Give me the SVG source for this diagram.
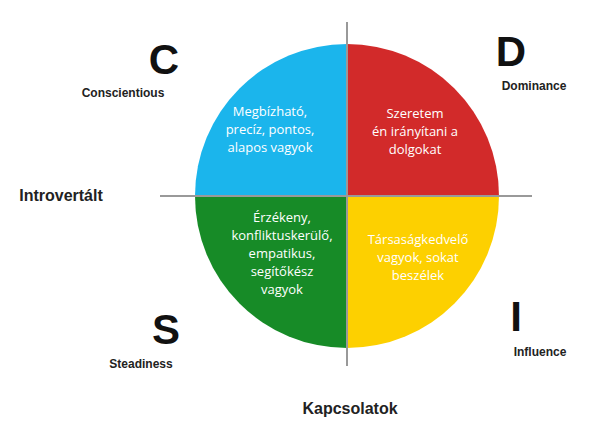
<svg xmlns="http://www.w3.org/2000/svg" width="600" height="434" viewBox="0 0 600 434">
<style>
.q{font-family:"Open Sans","Liberation Sans",sans-serif;font-size:13px;fill:#fff;text-anchor:middle}
.big{font-family:"Liberation Sans",Arial,sans-serif;font-size:42px;font-weight:bold;fill:#111;text-anchor:middle}
.lb{font-family:"Liberation Sans",Arial,sans-serif;font-size:12px;font-weight:bold;fill:#222;text-anchor:middle}
.ax{font-family:"Liberation Sans",Arial,sans-serif;font-size:16px;font-weight:bold;fill:#222;text-anchor:middle}
</style>
<rect width="600" height="434" fill="#fff"/>
<g id="blue"><path d="M347,196 L195,196 A152,152 0 0 1 347,44 Z" fill="#1bb5ec"/>
<text class="q" x="270" y="116">Megbízható,</text><text class="q" x="270" y="134">precíz, pontos,</text><text class="q" x="270" y="152">alapos vagyok</text></g>
<g id="red"><path d="M347,196 L347,44 A152,152 0 0 1 499,196 Z" fill="#d22a2a"/>
<text class="q" x="415" y="118">Szeretem</text><text class="q" x="415" y="136">én irányítani a</text><text class="q" x="415" y="154">dolgokat</text></g>
<g id="green"><path d="M347,196 L347,348 A152,152 0 0 1 195,196 Z" fill="#178b27"/>
<text class="q" x="282" y="222">Érzékeny,</text><text class="q" x="282" y="240">konfliktuskerülő,</text><text class="q" x="282" y="258">empatikus,</text><text class="q" x="282" y="276">segítőkész</text><text class="q" x="282" y="294">vagyok</text></g>
<g id="yellow"><path d="M347,196 L499,196 A152,152 0 0 1 347,348 Z" fill="#fdd000"/>
<text class="q" x="418" y="244">Társaságkedvelő</text><text class="q" x="418" y="262">vagyok, sokat</text><text class="q" x="418" y="280">beszélek</text></g>
<g id="connectors" stroke="#999" stroke-width="2"><line x1="347" y1="22" x2="347" y2="366"/><line x1="160" y1="196" x2="532" y2="196"/></g>
<g id="labels">
<text class="big" x="164" y="74">C</text><text class="lb" x="123" y="97">Conscientious</text>
<text class="big" x="511" y="66">D</text><text class="lb" x="534" y="90">Dominance</text>
<text class="big" x="166" y="344">S</text><text class="lb" x="141" y="368">Steadiness</text>
<text class="big" x="516" y="331">I</text><text class="lb" x="540" y="356">Influence</text>
<text class="ax" x="61" y="201">Introvertált</text>
<text class="ax" x="350" y="414">Kapcsolatok</text>
</g>
</svg>
